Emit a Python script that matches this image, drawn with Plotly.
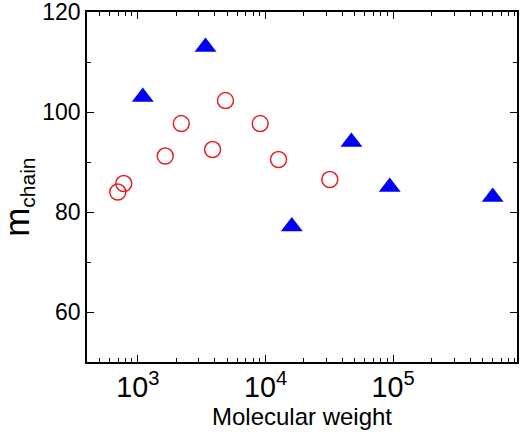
import plotly.graph_objects as go

# open circles (red)
mw_circle = [697, 776, 1640, 2190, 3850, 4860, 9090, 12650, 31900]
m_circle = [84.0, 85.7, 91.2, 97.7, 92.5, 102.3, 97.7, 90.5, 86.5]

# filled triangles (blue)
mw_tri = [1094, 3390, 16070, 47100, 94000, 602000]
m_tri = [103.0, 113.0, 77.1, 94.0, 85.0, 83.0]

y_ticks = [60, 80, 100, 120]

fig = go.Figure()
fig.add_trace(go.Scatter(
    x=mw_circle, y=m_circle, mode="markers",
    marker=dict(symbol="circle-open", size=16, color="rgb(228,32,40)",
                line=dict(width=1.5)),
    showlegend=False))
fig.add_trace(go.Scatter(
    x=mw_tri, y=m_tri, mode="markers",
    marker=dict(symbol="triangle-up", size=19, color="rgb(0,0,245)"),
    showlegend=False))

axis_style = dict(showline=True, linecolor="black", linewidth=1.5, mirror="ticks",
                  ticks="inside", ticklen=7, tickwidth=1.3, tickcolor="black",
                  showgrid=False, zeroline=False, automargin=False,
                  ticklabeloverflow="allow",
                  tickfont=dict(family="Liberation Sans, Arial", size=23, color="black"))

fig.update_xaxes(type="log", range=[2.602, 5.97], dtick=1, exponentformat="power",
                 minor=dict(ticks="inside", ticklen=4, tickwidth=1.2, tickcolor="black",
                            dtick="D1", showgrid=False),
                 title=dict(text="Molecular weight", standoff=5,
                            font=dict(family="Liberation Sans, Arial", size=24, color="black")),
                 **axis_style)
fig.update_yaxes(range=[50, 120.02], tickmode="array", tickvals=y_ticks,
                 minor=dict(ticks="inside", ticklen=4, tickwidth=1.2, tickcolor="black",
                            dtick=10, showgrid=False),
                 **axis_style)

# y title as annotation so it can sit against the left edge like the original
fig.add_annotation(text="<span style='font-size:35px'>m</span><sub>chain</sub>",
                   xref="paper", yref="paper", x=-0.162, y=0.47,
                   xanchor="center", yanchor="middle", textangle=-90, showarrow=False,
                   font=dict(family="Liberation Sans, Arial", size=30, color="black"))

fig.update_layout(width=520, height=432, plot_bgcolor="white", paper_bgcolor="white",
                  margin=dict(l=87, r=3, t=12, b=70))

# page has default 8px body margin; drop it so the figure fills the window
fig.write_html("out.html", config={"displayModeBar": False},
               post_script="document.body.style.margin='0';")
